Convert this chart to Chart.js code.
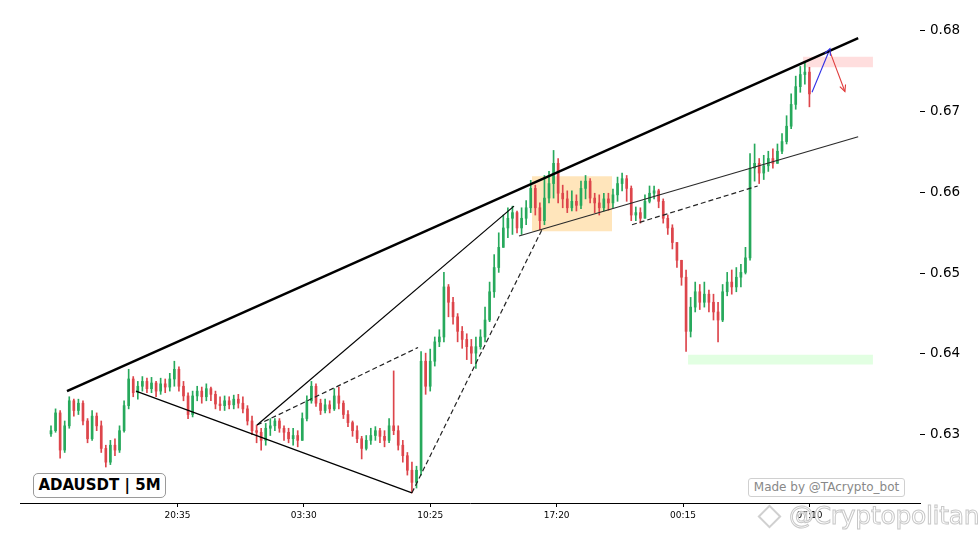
<!DOCTYPE html>
<html>
<head>
<meta charset="utf-8">
<title>ADAUSDT 5M</title>
<script src="https://cdn.jsdelivr.net/npm/chart.js@4.4.1/dist/chart.umd.min.js"></script>
<style>
  body { margin: 0; background: #fff; }
  #wrap { position: relative; width: 980px; height: 543px; overflow: hidden; }
  #chart { position: absolute; left: 0; top: 0; }
  .pairBox {
    position: absolute; left: 33px; top: 473px; width: 133px; height: 25px;
    box-sizing: border-box; border: 1.5px solid #9a9a9a; border-radius: 5px; background: #fff;
    font: bold 15px "DejaVu Sans", sans-serif; line-height: 22px; text-align: center; color: #000;
  }
  .madeBy {
    position: absolute; left: 748px; top: 478px; width: 157px; height: 19px;
    box-sizing: border-box; border: 1px solid #d0d0d0; border-radius: 3px; background: #fff;
    font: 12px "DejaVu Sans", sans-serif; line-height: 17px; text-align: center; color: #888;
  }
  .mark {
    position: absolute; left: 789px; top: 501px;
    font: 25px "DejaVu Sans", sans-serif; color: rgba(255,255,255,0.75);
    -webkit-text-stroke: 1px #c8c8c8; white-space: nowrap; letter-spacing: -0.3px;
  }
  .logo {
    position: absolute; left: 761px; top: 508px; width: 13px; height: 13px;
    border: 2px solid #d0d0d0; transform: rotate(45deg); background: rgba(255,255,255,0.7);
  }
</style>
</head>
<body>
<div id="wrap">
  <canvas id="chart" width="980" height="543"></canvas>
  <div class="pairBox">ADAUSDT | 5M</div>
  <div class="madeBy">Made by @TAcrypto_bot</div>
  <div class="logo"></div>
  <div class="mark">@Cryptopolitan</div>
</div>
<script>
// ADAUSDT 5 minute chart with drawn patterns
// x values are 5 minute bar numbers, candles are grouped by 3 (15 min)

const tickIdx = [83, 166, 249, 332, 415, 498];
const tickLabels = ['20:35', '03:30', '10:25', '17:20', '00:15', '07:10'];
const priceTicks = [0.63, 0.64, 0.65, 0.66, 0.67, 0.68];

const candleStep = 3;
const firstOpen = 0.6301;

const closes = [
  0.6305, 0.6327, 0.6281, 0.6311, 0.6342, 0.6330, 0.6339, 0.6317, 0.6295, 0.6323,
  0.6311, 0.6283, 0.6266, 0.6287, 0.6281, 0.6305, 0.6336, 0.6369, 0.6352, 0.6360,
  0.6366, 0.6357, 0.6364, 0.6354, 0.6363, 0.6359, 0.6369, 0.6381, 0.6360, 0.6348,
  0.6325, 0.6348, 0.6354, 0.6347, 0.6357, 0.6350, 0.6338, 0.6336, 0.6342, 0.6337,
  0.6344, 0.6339, 0.6332, 0.6317, 0.6305, 0.6303, 0.6293, 0.6308, 0.6311, 0.6317,
  0.6308, 0.6303, 0.6295, 0.6299, 0.6293, 0.6320, 0.6342, 0.6360, 0.6339, 0.6330,
  0.6337, 0.6332, 0.6348, 0.6339, 0.6325, 0.6315, 0.6305, 0.6295, 0.6283, 0.6293,
  0.6299, 0.6305, 0.6298, 0.6293, 0.6311, 0.6305, 0.6287, 0.6274, 0.6256, 0.6241,
  0.6256, 0.6391, 0.6360, 0.6391, 0.6415, 0.6421, 0.6483, 0.6464, 0.6446, 0.6428,
  0.6418, 0.6409, 0.6401, 0.6409, 0.6421, 0.6442, 0.6477, 0.6507, 0.6532, 0.6556,
  0.6568, 0.6575, 0.6556, 0.6568, 0.6581, 0.6605, 0.6581, 0.6565, 0.6593, 0.6611,
  0.6636, 0.6599, 0.6592, 0.6581, 0.6589, 0.6584, 0.6605, 0.6614, 0.6593, 0.6587,
  0.6581, 0.6592, 0.6587, 0.6597, 0.6611, 0.6617, 0.6605, 0.6572, 0.6575, 0.6568,
  0.6589, 0.6599, 0.6602, 0.6589, 0.6568, 0.6556, 0.6538, 0.6516, 0.6495, 0.6428,
  0.6458, 0.6477, 0.6464, 0.6474, 0.6464, 0.6452, 0.6442, 0.6477, 0.6489, 0.6483,
  0.6495, 0.6501, 0.6519, 0.6630, 0.6636, 0.6624, 0.6633, 0.6642, 0.6636, 0.6651,
  0.6663, 0.6682, 0.6709, 0.6731, 0.6746, 0.6749, 0.6722
];

const highs = [
  0.6311, 0.6332, 0.6330, 0.6317, 0.6347, 0.6344, 0.6344, 0.6342, 0.6320, 0.6330,
  0.6327, 0.6317, 0.6287, 0.6293, 0.6295, 0.6311, 0.6342, 0.6381, 0.6372, 0.6366,
  0.6372, 0.6370, 0.6371, 0.6366, 0.6370, 0.6369, 0.6376, 0.6391, 0.6384, 0.6366,
  0.6352, 0.6354, 0.6360, 0.6359, 0.6363, 0.6359, 0.6354, 0.6347, 0.6348, 0.6347,
  0.6349, 0.6350, 0.6347, 0.6336, 0.6323, 0.6312, 0.6308, 0.6314, 0.6320, 0.6320,
  0.6320, 0.6311, 0.6308, 0.6308, 0.6305, 0.6327, 0.6348, 0.6366, 0.6363, 0.6344,
  0.6344, 0.6342, 0.6357, 0.6359, 0.6342, 0.6330, 0.6317, 0.6311, 0.6298, 0.6299,
  0.6308, 0.6310, 0.6308, 0.6305, 0.6320, 0.6379, 0.6311, 0.6293, 0.6278, 0.6266,
  0.6261, 0.6403, 0.6401, 0.6406, 0.6421, 0.6430, 0.6501, 0.6486, 0.6470, 0.6450,
  0.6434, 0.6425, 0.6418, 0.6421, 0.6430, 0.6458, 0.6489, 0.6523, 0.6550, 0.6572,
  0.6581, 0.6583, 0.6577, 0.6581, 0.6590, 0.6615, 0.6609, 0.6587, 0.6621, 0.6626,
  0.6652, 0.6642, 0.6609, 0.6602, 0.6602, 0.6597, 0.6614, 0.6621, 0.6617, 0.6599,
  0.6597, 0.6599, 0.6599, 0.6604, 0.6619, 0.6624, 0.6621, 0.6608, 0.6582, 0.6581,
  0.6597, 0.6608, 0.6608, 0.6604, 0.6592, 0.6572, 0.6560, 0.6538, 0.6516, 0.6504,
  0.6470, 0.6489, 0.6486, 0.6489, 0.6479, 0.6474, 0.6464, 0.6486, 0.6501, 0.6504,
  0.6507, 0.6511, 0.6532, 0.6648, 0.6660, 0.6642, 0.6646, 0.6651, 0.6654, 0.6660,
  0.6673, 0.6695, 0.6722, 0.6744, 0.6756, 0.6761, 0.6755
];

const lows = [
  0.6298, 0.6303, 0.6271, 0.6278, 0.6308, 0.6323, 0.6325, 0.6312, 0.6290, 0.6293,
  0.6305, 0.6278, 0.6260, 0.6263, 0.6274, 0.6278, 0.6303, 0.6332, 0.6347, 0.6344,
  0.6354, 0.6352, 0.6352, 0.6347, 0.6350, 0.6352, 0.6354, 0.6360, 0.6354, 0.6342,
  0.6320, 0.6322, 0.6342, 0.6339, 0.6342, 0.6342, 0.6332, 0.6330, 0.6330, 0.6332,
  0.6332, 0.6333, 0.6327, 0.6312, 0.6300, 0.6290, 0.6281, 0.6287, 0.6299, 0.6305,
  0.6303, 0.6293, 0.6290, 0.6287, 0.6285, 0.6293, 0.6317, 0.6339, 0.6335, 0.6325,
  0.6327, 0.6327, 0.6330, 0.6332, 0.6320, 0.6310, 0.6298, 0.6290, 0.6270, 0.6281,
  0.6288, 0.6293, 0.6290, 0.6285, 0.6290, 0.6300, 0.6281, 0.6266, 0.6250, 0.6228,
  0.6234, 0.6250, 0.6350, 0.6354, 0.6385, 0.6409, 0.6415, 0.6446, 0.6437, 0.6415,
  0.6407, 0.6393, 0.6388, 0.6382, 0.6406, 0.6415, 0.6440, 0.6470, 0.6501, 0.6532,
  0.6544, 0.6548, 0.6550, 0.6548, 0.6560, 0.6575, 0.6572, 0.6554, 0.6560, 0.6587,
  0.6593, 0.6587, 0.6581, 0.6575, 0.6577, 0.6577, 0.6580, 0.6592, 0.6587, 0.6575,
  0.6572, 0.6577, 0.6578, 0.6581, 0.6589, 0.6602, 0.6589, 0.6565, 0.6565, 0.6562,
  0.6568, 0.6587, 0.6592, 0.6581, 0.6562, 0.6548, 0.6530, 0.6507, 0.6485, 0.6403,
  0.6421, 0.6452, 0.6455, 0.6458, 0.6452, 0.6442, 0.6415, 0.6440, 0.6472, 0.6474,
  0.6477, 0.6483, 0.6499, 0.6516, 0.6614, 0.6611, 0.6616, 0.6626, 0.6630, 0.6636,
  0.6648, 0.6660, 0.6679, 0.6703, 0.6724, 0.6734, 0.6706
];

// pattern lines: [bar, price] pairs
const upperTrend = [[10.5, 0.6354], [530, 0.6791]];
const lowerTrend = [[55.8, 0.6354], [237, 0.6228]];
const swingUp = [[135.3, 0.6312], [304, 0.6583]];
const swingUpDash = [[135.3, 0.6312], [241, 0.6408]];
const breakoutDash = [[237, 0.6228], [322.4, 0.6554]];
const rangeSupport = [[307.3, 0.6546], [530, 0.6669]];
const retestDash = [[381.5, 0.6560], [464, 0.6608]];
const bullArrow = [[499.7, 0.6724], [511.5, 0.6778]];
const bearArrow = [[511.5, 0.6774], [521.3, 0.6725]];

// zones: [barStart, barEnd, priceLow, priceHigh]
const consolidationZone = [315.8, 368.4, 0.6552, 0.6620];
const resistanceZone = [493.8, 539.7, 0.6755, 0.6768];
const supportZone = [418.3, 539.7, 0.6387, 0.6399];

const GREEN = '#27a95c';
const RED = '#dd454b';

const opens = closes.map((c, i) => i === 0 ? firstOpen : closes[i - 1]);
const candleColors = closes.map((c, i) => c >= opens[i] ? GREEN : RED);

function toPoints(pairs) {
    return pairs.map(p => ({ x: p[0], y: p[1] }));
}

function lineSet(pairs, color, width, dash, extra) {
    return Object.assign({
        type: 'line',
        data: toPoints(pairs),
        borderColor: color,
        borderWidth: width,
        borderDash: dash || [],
        pointRadius: 0,
        fill: false,
        tension: 0,
        order: 1,
    }, extra || {});
}

function zoneSets(zone, color) {
    return [
        {
            type: 'line',
            data: [{ x: zone[0], y: zone[3] }, { x: zone[1], y: zone[3] }],
            borderWidth: 0,
            pointRadius: 0,
            backgroundColor: color,
            fill: '+1',
            order: 10,
        },
        {
            type: 'line',
            data: [{ x: zone[0], y: zone[2] }, { x: zone[1], y: zone[2] }],
            borderWidth: 0,
            pointRadius: 0,
            fill: false,
            order: 10,
        },
    ];
}

// draws open arrow heads at the end of datasets flagged with arrow: true
const arrowHeads = {
    id: 'arrowHeads',
    afterDatasetsDraw(chart) {
        const ctx = chart.ctx;
        chart.data.datasets.forEach((ds, i) => {
            if (!ds.arrow) return;
            const pts = chart.getDatasetMeta(i).data;
            const a = pts[pts.length - 2];
            const b = pts[pts.length - 1];
            const ang = Math.atan2(b.y - a.y, b.x - a.x);
            const len = 7;
            ctx.save();
            ctx.strokeStyle = ds.borderColor;
            ctx.lineWidth = ds.borderWidth;
            ctx.beginPath();
            ctx.moveTo(b.x - len * Math.cos(ang - 0.45), b.y - len * Math.sin(ang - 0.45));
            ctx.lineTo(b.x, b.y);
            ctx.lineTo(b.x - len * Math.cos(ang + 0.45), b.y - len * Math.sin(ang + 0.45));
            ctx.stroke();
            ctx.restore();
        });
    },
};

Chart.defaults.font.family = "'DejaVu Sans', sans-serif";

const datasets = [
    {
        label: 'wicks',
        data: closes.map((c, i) => ({ x: i * candleStep, y: [lows[i], highs[i]] })),
        backgroundColor: candleColors,
        barThickness: 1,
        grouped: false,
        order: 6,
    },
    {
        label: 'bodies',
        data: closes.map((c, i) => ({ x: i * candleStep, y: [opens[i], c] })),
        backgroundColor: candleColors,
        barThickness: 2,
        minBarLength: 1,
        grouped: false,
        order: 5,
    },
    ...zoneSets(consolidationZone, 'rgba(255, 170, 30, 0.3)'),
    ...zoneSets(resistanceZone, 'rgba(255, 60, 60, 0.17)'),
    ...zoneSets(supportZone, 'rgba(60, 255, 60, 0.15)'),
    lineSet(upperTrend, '#000', 2.5),
    lineSet(lowerTrend, '#000', 1.2),
    lineSet(swingUp, '#000', 1.2),
    lineSet(swingUpDash, '#222', 1.2, [5, 3]),
    lineSet(breakoutDash, '#222', 1.2, [5, 3]),
    lineSet(rangeSupport, '#2a2a2a', 1.2),
    lineSet(retestDash, '#222', 1.2, [5, 3]),
    lineSet(bullArrow, '#2f2fe6', 1.1, null, { arrow: true }),
    lineSet(bearArrow, '#e03c3c', 1.1, null, { arrow: true }),
];

new Chart(document.getElementById('chart'), {
    type: 'bar',
    data: { datasets: datasets },
    options: {
        responsive: false,
        animation: false,
        layout: { padding: { left: 20, top: 8, right: 0, bottom: 0 } },
        plugins: {
            legend: { display: false },
            tooltip: { enabled: false },
        },
        scales: {
            x: {
                type: 'linear',
                min: -20.35,
                max: 570.6,
                offset: false,
                afterFit: (scale) => { scale.height = 40; },
                afterBuildTicks: (scale) => { scale.ticks = tickIdx.map(v => ({ value: v })); },
                ticks: {
                    callback: (v) => tickLabels[tickIdx.indexOf(v)] || '',
                    font: { size: 9 },
                    color: '#000',
                    maxRotation: 0,
                    autoSkip: false,
                    padding: 3,
                },
                grid: { offset: false, drawOnChartArea: false, drawTicks: true, tickLength: 4, color: '#000' },
                border: { display: true, color: '#000', width: 1 },
            },
            y: {
                position: 'right',
                min: 0.621544,
                max: 0.682206,
                afterFit: (scale) => { scale.width = 60; },
                afterBuildTicks: (scale) => { scale.ticks = priceTicks.map(v => ({ value: v })); },
                ticks: {
                    callback: (v) => v.toFixed(2),
                    font: { size: 13.5 },
                    color: '#000',
                    padding: 5,
                },
                grid: { drawOnChartArea: false, drawTicks: true, tickLength: 5, color: '#000' },
                border: { display: false },
            },
        },
    },
    plugins: [arrowHeads],
});
</script>
</body>
</html>
